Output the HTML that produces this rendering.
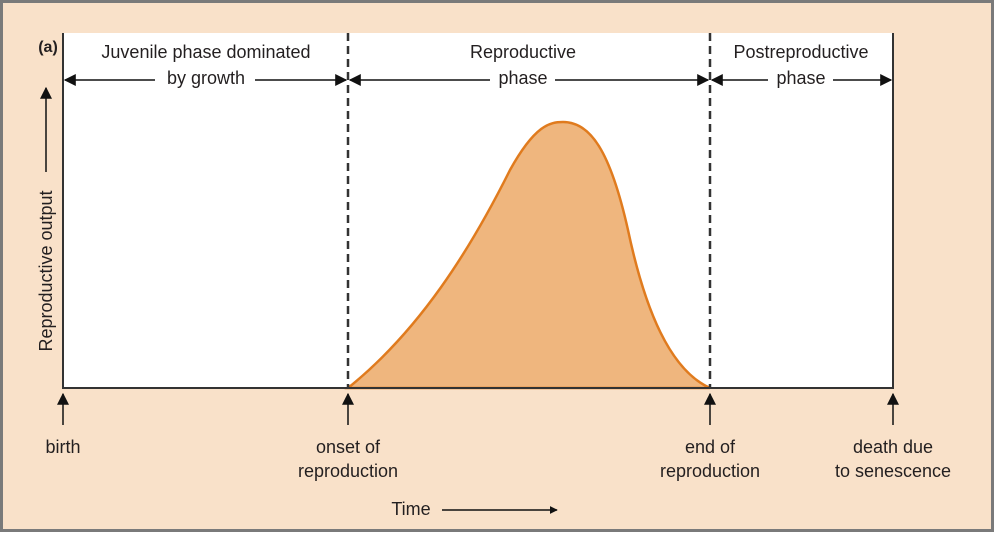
<!DOCTYPE html>
<html><head><style>body{margin:0;background:#fff}</style></head><body>
<svg width="995" height="533" viewBox="0 0 995 533" xmlns="http://www.w3.org/2000/svg" font-family="Liberation Sans, sans-serif" fill="#231f20">
<defs><marker id="a" viewBox="0 0 10 10" refX="9" refY="5" markerWidth="8" markerHeight="8" markerUnits="userSpaceOnUse" orient="auto"><path d="M0,0L10,5L0,10z" fill="#111"/></marker>
<marker id="b" viewBox="0 0 10 10" refX="9" refY="5" markerWidth="12" markerHeight="12" markerUnits="userSpaceOnUse" orient="auto"><path d="M0,0L10,5L0,10z" fill="#111"/></marker></defs>
<rect x="1.5" y="1.5" width="991" height="529" fill="#f9e1c9" stroke="#7a7a7a" stroke-width="3"/>
<rect x="63" y="33" width="830" height="355" fill="#fff"/>
<path d="M348,388 C420,330 470,250 510,170 C535,125 550,122 563,122 C590,122 610,150 628,230 C645,310 670,370 710,388 Z" fill="#efb67e" stroke="#e07b1e" stroke-width="2.5"/>
<path d="M63,33 V388 H893 V33" fill="none" stroke="#333" stroke-width="2"/>
<line x1="348" y1="33" x2="348" y2="388" stroke="#333" stroke-width="2.5" stroke-dasharray="8,5"/>
<line x1="710" y1="33" x2="710" y2="388" stroke="#333" stroke-width="2.5" stroke-dasharray="8,5"/>
<g stroke="#111" stroke-width="1.5">
<line x1="155" y1="80" x2="65" y2="80" marker-end="url(#b)"/><line x1="255" y1="80" x2="346" y2="80" marker-end="url(#b)"/>
<line x1="490" y1="80" x2="350" y2="80" marker-end="url(#b)"/><line x1="555" y1="80" x2="708" y2="80" marker-end="url(#b)"/>
<line x1="768" y1="80" x2="712" y2="80" marker-end="url(#b)"/><line x1="833" y1="80" x2="891" y2="80" marker-end="url(#b)"/>
<line x1="63" y1="425" x2="63" y2="394" marker-end="url(#b)"/><line x1="348" y1="425" x2="348" y2="394" marker-end="url(#b)"/>
<line x1="710" y1="425" x2="710" y2="394" marker-end="url(#b)"/><line x1="893" y1="425" x2="893" y2="394" marker-end="url(#b)"/>
<line x1="442" y1="510" x2="557" y2="510" marker-end="url(#a)"/>
<line x1="46" y1="172" x2="46" y2="88" marker-end="url(#b)"/>
</g>
<g font-size="18" text-anchor="middle">
<text x="48" y="52" font-weight="bold" font-size="16">(a)</text>
<text x="206" y="58">Juvenile phase dominated</text><text x="206" y="84">by growth</text>
<text x="523" y="58">Reproductive</text><text x="523" y="84">phase</text>
<text x="801" y="58">Postreproductive</text><text x="801" y="84">phase</text>
<text x="63" y="453">birth</text>
<text x="348" y="453">onset of</text><text x="348" y="477">reproduction</text>
<text x="710" y="453">end of</text><text x="710" y="477">reproduction</text>
<text x="893" y="453">death due</text><text x="893" y="477">to senescence</text>
<text x="411" y="515">Time</text>
<text transform="translate(52,271) rotate(-90)">Reproductive output</text>
</g>
</svg>
</body></html>
